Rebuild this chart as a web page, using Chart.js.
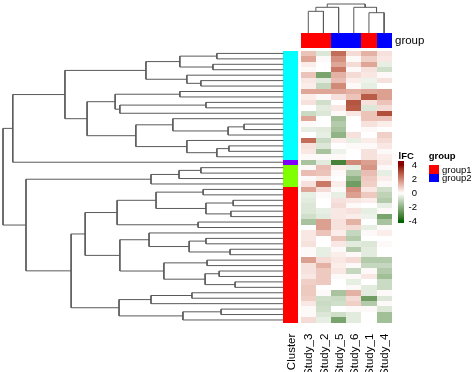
<!DOCTYPE html>
<html>
<head>
<meta charset="utf-8">
<script src="https://cdn.jsdelivr.net/npm/chart.js@4.4.1/dist/chart.umd.min.js"></script>
<style>
  body { margin: 0; background: #fff; }
  #wrap { position: relative; width: 474px; height: 372px; overflow: hidden; font-family: "Liberation Sans", Arial, sans-serif; color: #000; }
  #wrap canvas { position: absolute; left: 0; top: 0; }
  .txt { position: absolute; white-space: nowrap; }
  .ttl { font-weight: bold; font-size: 9.5px; line-height: 11px; }
  .lab { font-size: 9.5px; line-height: 10px; }
  .box { position: absolute; }
</style>
</head>
<body>
<div id="wrap">
  <canvas id="hm" width="474" height="372"></canvas>
  <div class="txt" style="left:395px; top:33px; font-size:11.5px; line-height:15px;">group</div>
  <div class="txt ttl" style="left:398.5px; top:150px;">lFC</div>
  <div id="lfcBar" class="box" style="left:398px; top:160.7px; width:5.5px; height:62.6px;"></div>
  <div id="lfcTicks"></div>
  <div class="txt ttl" style="left:428.7px; top:150px;">group</div>
  <div id="groupKeys"></div>
</div>
<script>
(function() {

    // columns in dendrogram order, with their annotation
    var columns = ['Study_3', 'Study_2', 'Study_5', 'Study_6', 'Study_1', 'Study_4'];
    var columnGroup = ['group1', 'group1', 'group2', 'group2', 'group1', 'group2'];
    var groups = ['group1', 'group2'];

    // row cluster per row (top to bottom)
    var rowCluster = [
        3, 3, 3, 3, 3, 3, 3, 3, 3, 3, 3, 3, 3, 3, 3, 3, 3, 3, 3, 3,
        4,
        2, 2, 2, 2,
        1, 1, 1, 1, 1, 1, 1, 1, 1, 1, 1, 1, 1, 1, 1, 1, 1, 1, 1, 1, 1, 1, 1, 1, 1
    ];

    // lFC values, one row per feature, columns as above
    var lfc = [
        [1.0, -0.6, 2.5, 0.6, 1.3, 0.5],
        [1.5, 0.1, 1.9, 0.1, 0.8, 0.4],
        [0.3, 0.0, 1.5, 0.6, 1.5, -0.4],
        [0.1, 0.0, 2.3, 0.1, 0.5, -0.8],
        [1.0, -2.3, 1.3, 0.6, 0.4, 0.1],
        [0.4, -0.5, 1.1, 0.3, -0.3, 0.5],
        [0.3, -1.0, 2.0, 0.1, -0.4, 0.0],
        [1.5, 1.5, 1.5, 1.3, 1.5, 1.6],
        [0.3, 0.1, 0.5, 1.0, 2.8, 1.6],
        [0.5, -0.8, 0.0, 2.9, 0.5, 1.0],
        [0.0, -0.5, 0.4, 2.8, -0.6, 0.6],
        [-0.9, -0.6, 0.1, 0.4, 1.0, 3.0],
        [1.5, 0.0, -1.6, 0.0, 1.0, 1.0],
        [0.1, 0.0, -1.3, 0.0, 0.5, 0.3],
        [-0.4, -0.5, -1.5, 0.0, 0.1, 0.0],
        [0.0, -0.4, -1.9, 0.5, 0.0, 0.8],
        [2.5, -0.9, 0.3, -0.4, 0.3, 0.6],
        [0.5, -0.6, 0.0, 0.1, 0.1, 0.4],
        [0.4, -1.5, -0.3, 0.0, 0.5, 0.1],
        [0.1, 0.1, 0.1, 0.0, 0.5, 0.3],
        [-1.5, -0.5, -3.2, 2.0, 1.6, 0.4],
        [0.1, 1.1, 0.3, -0.4, 1.8, 0.1],
        [1.1, 1.0, 0.1, -1.3, 1.1, -0.4],
        [0.1, 0.3, 0.0, -1.9, 0.9, 0.3],
        [0.5, 2.3, 0.3, -2.5, 0.8, 0.1],
        [1.5, 0.6, 0.1, 1.9, 0.4, -0.8],
        [-0.4, 0.1, -0.4, 1.6, 0.9, -1.1],
        [-0.5, 0.0, 0.5, 0.4, 0.3, -1.3],
        [-0.6, 0.0, 0.6, 0.1, 0.0, -0.4],
        [-0.6, -0.4, 0.4, 0.5, -0.4, 0.1],
        [-0.8, -0.5, 0.4, 0.3, -0.3, -2.3],
        [-1.5, 1.6, 0.5, 1.3, 0.0, -1.5],
        [0.0, 1.6, 0.5, 0.6, -0.4, 0.1],
        [0.4, 1.0, 0.3, -1.0, 0.1, 0.3],
        [0.4, 0.0, 1.0, -1.3, 0.0, 0.0],
        [0.5, 0.0, 0.4, -0.5, -0.6, 0.1],
        [0.1, -0.4, 0.1, -1.3, -0.5, 0.0],
        [0.1, -0.4, 0.3, 0.1, -0.5, 0.0],
        [1.6, 0.6, 0.4, 0.6, -1.3, -1.3],
        [0.5, 1.3, 0.3, 0.1, -1.0, -1.0],
        [0.5, 0.9, 0.4, -1.0, 0.1, -1.3],
        [0.4, 0.9, 0.1, 0.1, 0.4, -1.6],
        [0.8, 0.9, 0.0, -0.4, 0.0, -0.9],
        [0.9, 0.0, 0.0, 0.1, -0.5, -0.9],
        [0.9, 0.1, -1.5, 1.3, -0.5, 0.1],
        [0.8, -0.8, -0.9, 0.6, -2.5, -0.6],
        [0.4, -0.9, -0.8, 0.8, -1.3, 0.1],
        [0.1, -0.8, 0.0, 0.1, 0.1, -0.6],
        [0.1, -0.6, -0.8, -0.5, 0.0, -1.6],
        [0.6, -0.4, -2.3, -0.5, 0.0, -1.6]
    ];

    // row dendrogram: [left, right, height]; numbers are rows, 'mN' is merge N
    var rowMerges = [
        [0, 1, 2.37], [2, 3, 2.51], ['m0', 'm1', 3.69], [5, 6, 2.94], [4, 'm3', 3.44],
        ['m2', 'm4', 4.90], [7, 8, 3.69], [9, 10, 2.76], ['m7', 11, 5.83], ['m6', 'm8', 6.00],
        [13, 14, 1.40], ['m10', 15, 1.97], [12, 'm11', 3.94], [17, 18, 1.94], ['m13', 19, 2.37],
        [16, 'm14', 3.44], ['m12', 'm15', 5.26], ['m9', 'm16', 7.00], ['m5', 'm17', 7.79], ['m18', 20, 9.65],
        [21, 22, 2.94], ['m20', 23, 3.72], ['m21', 24, 4.72], [25, 26, 2.86], [27, 28, 1.79],
        [29, 30, 1.87], ['m24', 'm25', 2.76], ['m23', 'm26', 4.54], [31, 32, 3.04], ['m27', 'm28', 5.93],
        [34, 35, 2.76], [36, 37, 1.90], ['m30', 'm31', 3.36], [33, 'm32', 4.79], [38, 39, 2.72],
        [40, 41, 2.29], [42, 43, 1.72], ['m35', 'm36', 2.79], ['m34', 'm37', 4.26], ['m33', 'm38', 5.83],
        ['m29', 'm39', 7.07], [44, 45, 3.26], ['m41', 46, 4.72], [47, 48, 2.22], ['m43', 49, 3.58],
        ['m42', 'm44', 5.86], ['m40', 'm45', 7.57], ['m22', 'm46', 9.18], ['m19', 'm47', 10.0]
    ];

    // column dendrogram
    var colMerges = [
        [0, 1, 7.5], ['m0', 2, 8.87], [4, 5, 7.03], [3, 'm2', 8.87], ['m1', 'm3', 10.0]
    ];

    var lfcTicks = [4, 2, 0, -2, -4];

    var clusterColor = { 1: '#FF0000', 2: '#80FF00', 3: '#00FFFF', 4: '#8000FF' };
    var groupColor = { group1: '#FF0000', group2: '#0000FF' };

    // layout (pixels)
    var plotLeft = 283.3, plotRight = 391.7, plotTop = 50.7, plotBottom = 322.7;
    var colWidth = (plotRight - 300.7) / columns.length;
    var clusterBar = [-(300.7 - plotLeft) / colWidth, -(300.7 - 298.3) / colWidth];
    var rowH = (plotBottom - plotTop) / lfc.length;
    var groupBar = [(33.3 - plotTop) / rowH, (47.7 - plotTop) / rowH];
    var rowDendroPx = 28.03, colDendroPx = 2.93, colDendroBase = 33.3;

    /**
     * colour ramp darkgreen - white - darkred, interpolated in LAB like colorRamp2
     */
    function hexToLab(hex) {
        var c = [1, 3, 5].map(function(i) {
            var v = parseInt(hex.substr(i, 2), 16) / 255;
            return v <= 0.04045 ? v / 12.92 : Math.pow((v + 0.055) / 1.055, 2.4);
        });
        var X = (0.4124564 * c[0] + 0.3575761 * c[1] + 0.1804375 * c[2]) / 0.95047;
        var Y = 0.2126729 * c[0] + 0.7151522 * c[1] + 0.0721750 * c[2];
        var Z = (0.0193339 * c[0] + 0.1191920 * c[1] + 0.9503041 * c[2]) / 1.08883;
        var f = function(t) { return t > 0.008856 ? Math.cbrt(t) : 7.787 * t + 16 / 116; };
        return [116 * f(Y) - 16, 500 * (f(X) - f(Y)), 200 * (f(Y) - f(Z))];
    }
    function labToRgb(lab) {
        var fy = (lab[0] + 16) / 116, fx = lab[1] / 500 + fy, fz = fy - lab[2] / 200;
        var inv = function(t) { var t3 = t * t * t; return t3 > 0.008856 ? t3 : (t - 16 / 116) / 7.787; };
        var X = inv(fx) * 0.95047, Y = inv(fy), Z = inv(fz) * 1.08883;
        var lin = [
            3.2404542 * X - 1.5371385 * Y - 0.4985314 * Z,
            -0.9692660 * X + 1.8760108 * Y + 0.0415560 * Z,
            0.0556434 * X - 0.2040259 * Y + 1.0572252 * Z
        ];
        var rgb = lin.map(function(v) {
            v = v <= 0.0031308 ? 12.92 * v : 1.055 * Math.pow(v, 1 / 2.4) - 0.055;
            return Math.round(Math.min(1, Math.max(0, v)) * 255);
        });
        return 'rgb(' + rgb.join(',') + ')';
    }
    var labLow = hexToLab('#006400'), labMid = hexToLab('#FFFFFF'), labHigh = hexToLab('#8B0000');
    function lfcColor(v) {
        v = Math.max(-4, Math.min(4, v));
        var a = v < 0 ? labLow : labHigh, t = Math.abs(v) / 4;
        return labToRgb([0, 1, 2].map(function(i) { return labMid[i] + (a[i] - labMid[i]) * t; }));
    }

    /**
     * dendrogram merges -> line points, breaks between merges
     */
    function dendroPoints(merges, flip) {
        var nodes = [], pts = [];
        function node(ref) {
            return typeof ref === 'number' ? { pos: ref + 0.5, h: 0 } : nodes[+ref.slice(1)];
        }
        merges.forEach(function(m) {
            var a = node(m[0]), b = node(m[1]);
            [[a.pos, a.h], [a.pos, m[2]], [b.pos, m[2]], [b.pos, b.h]].forEach(function(p) {
                pts.push(flip ? { x: p[1], y: p[0] } : { x: p[0], y: p[1] });
            });
            pts.push({ x: null, y: null });
            nodes.push({ pos: (a.pos + b.pos) / 2, h: m[2] });
        });
        return pts;
    }

    function fillCell(ctx, xs, ys, x0, x1, y0, y1, color) {
        var l = Math.round(xs.getPixelForValue(x0)), r = Math.round(xs.getPixelForValue(x1));
        var t = Math.round(ys.getPixelForValue(y0)), b = Math.round(ys.getPixelForValue(y1));
        ctx.fillStyle = color;
        ctx.fillRect(Math.min(l, r), Math.min(t, b), Math.abs(r - l), Math.abs(b - t));
    }

    var cellsPlugin = {
        id: 'cells',
        beforeDatasetsDraw: function(chart) {
            var ctx = chart.ctx, xs = chart.scales.x, ys = chart.scales.y;
            ctx.save();
            lfc.forEach(function(row, r) {
                row.forEach(function(v, c) {
                    fillCell(ctx, xs, ys, c, c + 1, r, r + 1, lfcColor(v));
                });
                fillCell(ctx, xs, ys, clusterBar[0], clusterBar[1], r, r + 1, clusterColor[rowCluster[r]]);
            });
            columnGroup.forEach(function(g, c) {
                fillCell(ctx, xs, ys, c, c + 1, groupBar[0], groupBar[1], groupColor[g]);
            });
            ctx.restore();
        }
    };

    var tickPos = [(clusterBar[0] + clusterBar[1]) / 2].concat(columns.map(function(c, i) { return i + 0.5; }));
    var tickText = ['Cluster'].concat(columns);
    var lineStyle = {
        showLine: true, borderColor: '#5a5a5a', borderWidth: 1, pointRadius: 0,
        pointHoverRadius: 0, tension: 0, clip: false, spanGaps: false
    };
    var colDendroMin = -(plotBottom - colDendroBase) / colDendroPx;

    new Chart(document.getElementById('hm'), {
        type: 'scatter',
        data: {
            datasets: [
                Object.assign({ label: 'rows', data: dendroPoints(rowMerges, true), xAxisID: 'xDend', yAxisID: 'y' }, lineStyle),
                Object.assign({ label: 'columns', data: dendroPoints(colMerges, false), xAxisID: 'x', yAxisID: 'yDend' }, lineStyle)
            ]
        },
        options: {
            responsive: false,
            animation: false,
            devicePixelRatio: 1,
            events: [],
            layout: { padding: { left: plotLeft, right: 474 - plotRight, top: plotTop, bottom: 0 } },
            plugins: { legend: { display: false }, tooltip: { enabled: false } },
            scales: {
                x: {
                    type: 'linear', min: clusterBar[0], max: columns.length,
                    grid: { display: false }, border: { display: false },
                    afterBuildTicks: function(scale) {
                        scale.ticks = tickPos.map(function(v) { return { value: v }; });
                    },
                    afterFit: function(scale) { scale.height = 372 - plotBottom; },
                    ticks: {
                        autoSkip: false, minRotation: 90, maxRotation: 90, padding: 3, labelOffset: 1, color: '#000',
                        font: { family: 'Liberation Sans', size: 11.5 },
                        callback: function(v, i) { return tickText[i]; }
                    }
                },
                y: { type: 'linear', min: 0, max: lfc.length, reverse: true, display: false },
                xDend: { type: 'linear', axis: 'x', display: false, reverse: true, min: -(plotRight - plotLeft) / rowDendroPx, max: 0 },
                yDend: { type: 'linear', axis: 'y', display: false, min: colDendroMin, max: colDendroMin + (plotBottom - plotTop) / colDendroPx }
            }
        },
        plugins: [cellsPlugin]
    });

    /**
     * legends
     */
    var barTop = 160.7, barH = 62.6, tick4 = 165, tickStep = 7.04;
    var stops = [];
    for (var v = 4.6; v >= -4.4; v -= 0.2) {
        var pos = (tick4 - barTop + (4 - v) * tickStep) / barH * 100;
        stops.push(lfcColor(v) + ' ' + pos.toFixed(1) + '%');
    }
    document.getElementById('lfcBar').style.background = 'linear-gradient(to bottom, ' + stops.join(', ') + ')';

    var tickBox = document.getElementById('lfcTicks');
    lfcTicks.forEach(function(t) {
        var d = document.createElement('div');
        d.className = 'txt lab';
        d.style.left = '405px';
        d.style.width = '12px';
        d.style.textAlign = 'right';
        d.style.top = (tick4 + (4 - t) * tickStep - 5) + 'px';
        d.textContent = String(t);
        tickBox.appendChild(d);
    });

    var keyBox = document.getElementById('groupKeys');
    groups.forEach(function(g, i) {
        var sw = document.createElement('div');
        sw.className = 'box';
        sw.style.cssText = 'left:428.7px; top:' + (165.3 + i * 8.5) + 'px; width:10.6px; height:8.5px; background:' + groupColor[g] + ';';
        keyBox.appendChild(sw);
        var d = document.createElement('div');
        d.className = 'txt lab';
        d.style.left = '442px';
        d.style.top = (164.5 + i * 8.5) + 'px';
        d.textContent = g;
        keyBox.appendChild(d);
    });

})()
</script>
</body>
</html>
